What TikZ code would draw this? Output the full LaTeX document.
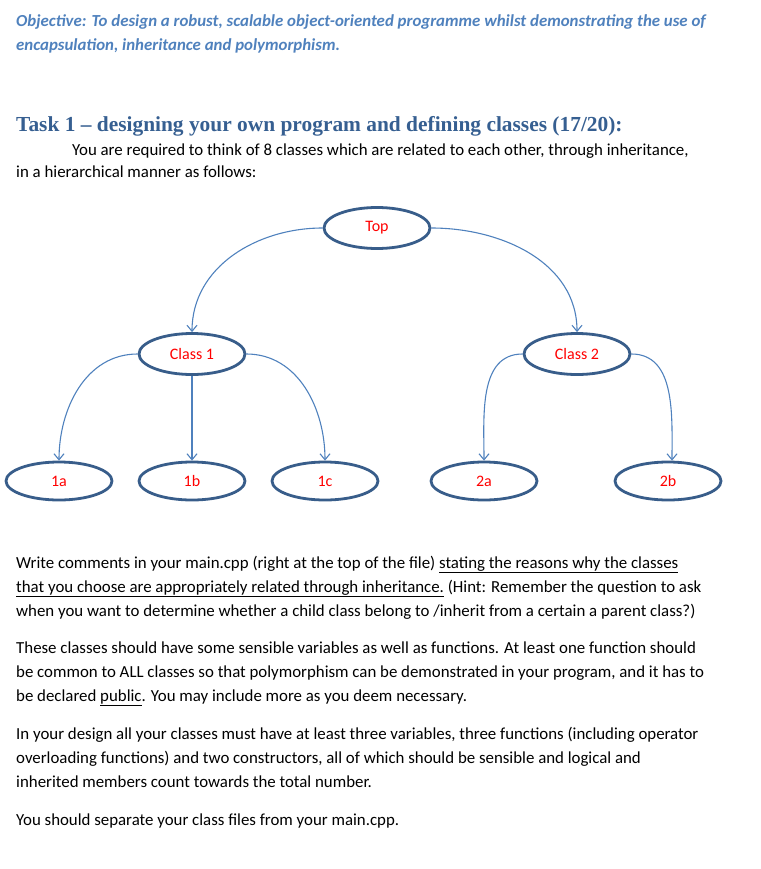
\documentclass[tikz,border=0pt]{standalone}
\usepackage{fontspec}
\setmainfont{Carlito}
\newfontfamily\headfont{Liberation Serif}
\usetikzlibrary{shapes.geometric,arrows.meta}
\definecolor{edgeblue}{RGB}{79,129,189}
\definecolor{ringblue}{RGB}{56,93,138}
\definecolor{headblue}{RGB}{54,95,145}
\begin{document}
\begin{tikzpicture}[x=1pt,y=-1pt,
  cls/.style={ellipse,draw=ringblue,line width=2.8pt,minimum width=106pt,minimum height=38pt,inner sep=0pt,text=red,font=\fontsize{16}{18}\selectfont},
  link/.style={draw=edgeblue,line width=1.1pt,-{Straight Barb[length=6pt,width=10pt]}},
  txt/.style={anchor=base west,inner sep=0pt,font=\fontsize{16.85}{19}\selectfont},
  obj/.style={txt,text=edgeblue,font=\fontsize{16.85}{19}\selectfont\bfseries\itshape}]
\useasboundingbox (0,0) rectangle (760,869);
\node[obj] (o1) at (16,27) {Objective: To design a robust, scalable object-oriented programme whilst demonstrating the use of};
\node[obj] (o2) at (16,51) {encapsulation, inheritance and polymorphism.};
\node[txt,text=headblue,font=\fontsize{21.4}{24}\selectfont\headfont\bfseries] (h) at (16,132) {Task 1 – designing your own program and defining classes (17/20):};
\node[txt] (l1) at (72,156) {You are required to think of 8 classes which are related to each other, through inheritance,};
\node[txt] (l2) at (16,178) {in a hierarchical manner as follows:};

\node[cls,minimum height=41pt] (top) at (377,228) {Top};
\node[cls,minimum height=41pt] (c1) at (192,354) {Class 1};
\node[cls,minimum height=41pt] (c2) at (577,354) {Class 2};
\node[cls] (a1) at (59,481) {1a};
\node[cls] (b1) at (192,481) {1b};
\node[cls] (c1c) at (325,481) {1c};
\node[cls] (a2) at (484,481) {2a};
\node[cls] (b2) at (668,481) {2b};

\draw[link] (top.west) to[out=180,in=90] (c1.north);
\draw[link] (top.east) to[out=0,in=90] (c2.north);
\draw[link] (c1.west) to[out=180,in=90] (a1.north);
\draw[link] (c1.south) -- (b1.north);
\draw[link] (c1.east) to[out=0,in=90] (c1c.north);
\draw[link] (c2.west) to[out=180,in=90] (a2.north);
\draw[link] (c2.east) to[out=0,in=90] ([xshift=4pt]b2.north);

\node[txt] (p1) at (16,568) {Write comments in your main.cpp (right at the top of the file) \underline{stating the reasons why the classes}};
\node[txt] (p2) at (16,592) {\underline{that you choose are appropriately related through inheritance.} (Hint: Remember the question to ask};
\node[txt] (p3) at (16,616) {when you want to determine whether a child class belong to /inherit from a certain a parent class?)};
\node[txt] (q1) at (16,653) {These classes should have some sensible variables as well as functions. At least one function should};
\node[txt] (q2) at (16,677) {be common to ALL classes so that polymorphism can be demonstrated in your program, and it has to};
\node[txt] (q3) at (16,701) {be declared \underline{public}. You may include more as you deem necessary.};
\node[txt] (r1) at (16,739) {In your design all your classes must have at least three variables, three functions (including operator};
\node[txt] (r2) at (16,763) {overloading functions) and two constructors, all of which should be sensible and logical and};
\node[txt] (r3) at (16,787) {inherited members count towards the total number.};
\node[txt] (s1) at (16,825) {You should separate your class files from your main.cpp.};
\end{tikzpicture}
\end{document}
